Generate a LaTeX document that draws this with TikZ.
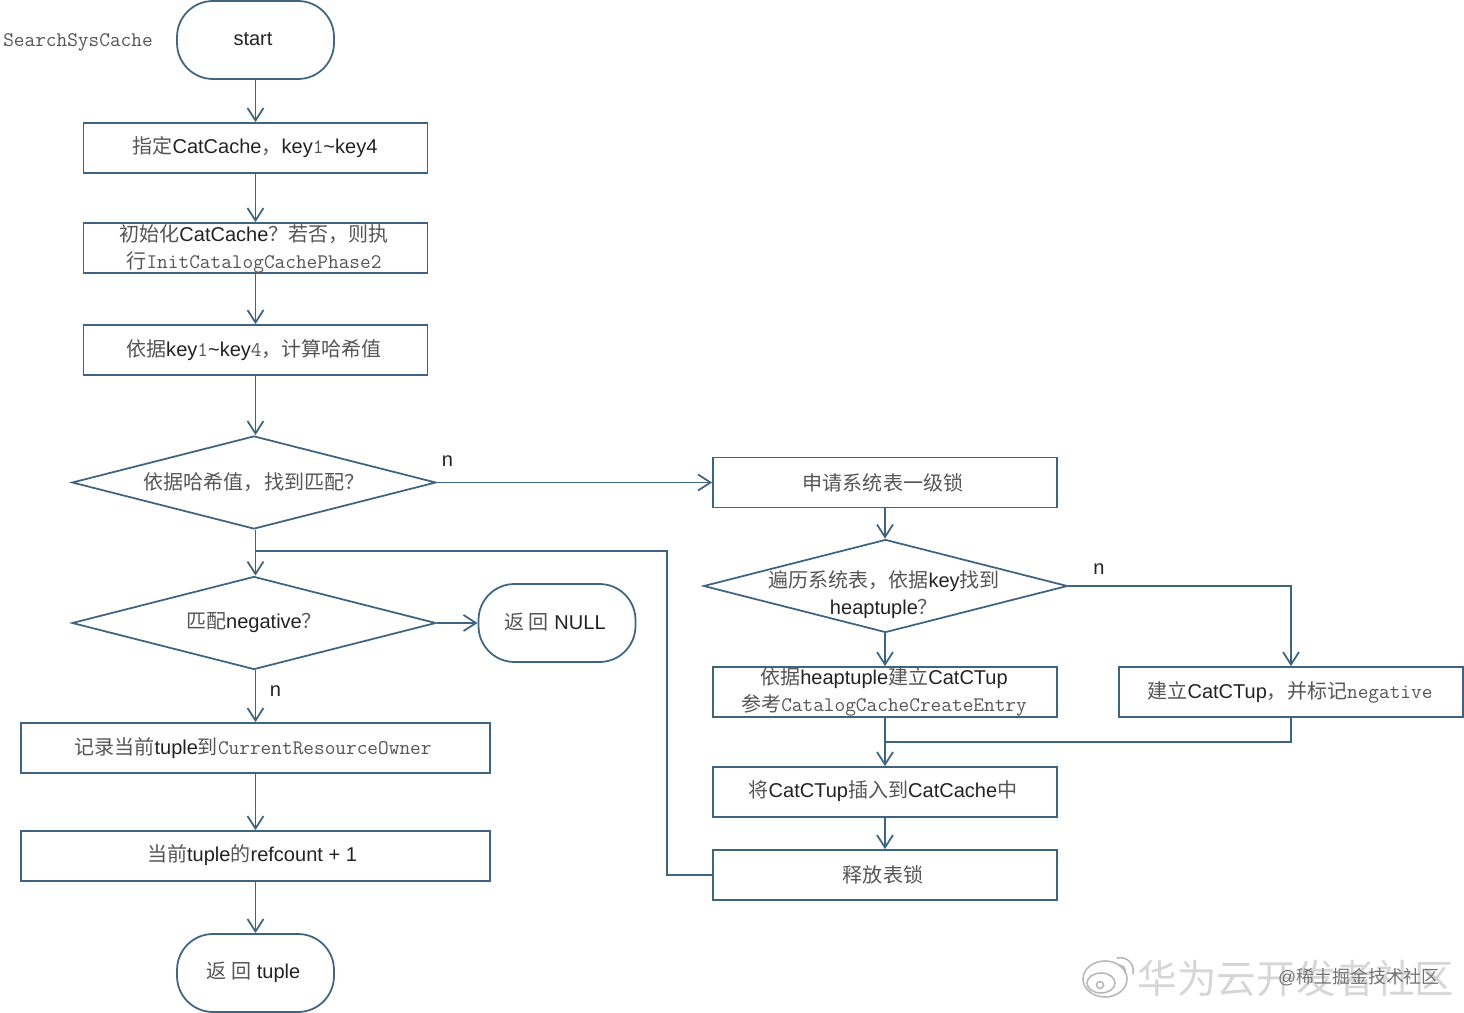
\documentclass[tikz,border=0pt]{standalone}
\usepackage{fontspec}
\setmainfont{Liberation Sans}
\newfontfamily\cjk{Noto Sans CJK SC}
\usetikzlibrary{shapes.geometric,arrows.meta}
\definecolor{flowline}{HTML}{3F6480}
\definecolor{latintext}{HTML}{222222}
\definecolor{cjktext}{HTML}{555555}
\definecolor{monotext}{HTML}{555555}
\newcommand{\zh}[1]{{\cjk\color{cjktext}#1}}
\newcommand{\mn}[1]{{\fontsize{11.8}{15.4}\ttfamily\color{monotext}#1}}
\tikzset{
	every node/.style={text=latintext,font=\fontsize{11.4}{15.4}\selectfont,inner sep=0pt,align=center},
	boxnode/.style={draw=flowline,line width=1pt,rectangle,minimum width=6.88cm,minimum height=1cm},
	widenode/.style={boxnode,minimum width=9.38cm},
	endnode/.style={draw=flowline,line width=1pt,rectangle,rounded corners=0.72cm,minimum width=3.14cm,minimum height=1.56cm},
	asknode/.style={draw=flowline,line width=1pt,diamond,aspect=3.9,minimum width=7.28cm,minimum height=1.86cm},
	flow/.style={draw=flowline,line width=1pt,-{Straight Barb[length=0.25cm,width=0.32cm]}},
	plain/.style={draw=flowline,line width=1pt}
}
\begin{document}
\begin{tikzpicture}[x=0.02cm,y=-0.02cm]
	\useasboundingbox (0,0) rectangle (1464,1013);
	% left column
	\node (title) at (78,42.5) {\mn{SearchSysCache}};
	\node [endnode] (start) at (255.5,40) {};
	\node (starttext) at (253,39) {start};
	\node [boxnode] (pick) at (255.5,148) {};
	\node (picktext) at (255,147.5) {\zh{指定}CatCache\zh{，}key\mn{1}\textasciitilde key4};
	\node [boxnode] (init) at (255.5,248) {};
	\node (inittext) at (254,248.5) {\zh{初始化}CatCache\zh{？若否，则执}\\\zh{行}\mn{InitCatalogCachePhase2}};
	\node [boxnode] (hash) at (255.5,350) {};
	\node (hashtext) at (254,350) {\zh{依据}key\mn{1}\textasciitilde key\mn{4}\zh{，计算哈希值}};
	\node [asknode] (match) at (254,482.5) {\zh{依据哈希值，找到匹配？}};
	\node [asknode] (neg) at (254,623) {\zh{匹配}negative\zh{？}};
	\node [endnode] (null) at (557,623) {};
	\node (nulltext) at (555,622) {\zh{返 回} NULL};
	\node [widenode] (owner) at (255.5,748) {};
	\node (ownertext) at (253,748.5) {\zh{记录当前}tuple\zh{到}\mn{CurrentResourceOwner}};
	\node [widenode] (refc) at (255.5,856) {};
	\node (refctext) at (252,855) {\zh{当前}tuple\zh{的}refcount + 1};
	\node [endnode] (ret) at (255.5,973) {};
	\node (rettext) at (253.5,972) {\zh{返 回} tuple};
	% right column
	\node [boxnode] (lock) at (885,482.5) {};
	\node (locktext) at (883,482.5) {\zh{申请系统表一级锁}};
	\node [asknode] (scan) at (885.5,586) {};
	\node (scantext) at (884,595) {\zh{遍历系统表，依据}key\zh{找到}\\heaptuple\zh{？}};
	\node [boxnode] (build) at (885,692) {};
	\node (buildtext) at (884,692) {\zh{依据}heaptuple\zh{建立}CatCTup\\\zh{参考}\mn{CatalogCacheCreateEntry}};
	\node [boxnode] (mark) at (1291,692) {};
	\node (marktext) at (1290,692) {\zh{建立}CatCTup\zh{，并标记}\mn{negative}};
	\node [boxnode] (insert) at (885,792) {};
	\node (inserttext) at (883,791.5) {\zh{将}CatCTup\zh{插入到}CatCache\zh{中}};
	\node [boxnode] (release) at (885,875) {};
	\node (releasetext) at (883,875) {\zh{释放表锁}};
	% branch labels
	\node (n1) at (447.5,461.5) {n};
	\node (n2) at (1099,569.5) {n};
	\node (n3) at (275.5,691.5) {n};
	% turning points
	\coordinate (merge) at (255.5,551);
	\coordinate (turna) at (667,551);
	\coordinate (turnb) at (667,875);
	\coordinate (join) at (885,742);
	% connectors
	\draw [flow] (start) -- (pick);
	\draw [flow] (pick) -- (init);
	\draw [flow] (init) -- (hash);
	\draw [flow] (hash) -- (match.north -| hash);
	\draw [flow] (match.south -| hash) -- (neg.north -| hash);
	\draw [flow] (match) -- (lock);
	\draw [flow] (neg) -- (null);
	\draw [flow] (neg.south -| owner) -- (owner);
	\draw [flow] (owner) -- (refc);
	\draw [flow] (refc) -- (ret);
	\draw [flow] (lock) -- (lock |- scan.north);
	\draw [flow] (scan.south -| build) -- (build);
	\draw [flow] (scan.east) -| (mark.north);
	\draw [flow] (build) -- (insert);
	\draw [flow] (insert) -- (release);
	\draw [plain] (mark.south) |- (join);
	\draw [plain] (release.west) -- (turnb) -- (turna) -- (merge);
	% watermark
	\begin{scope}[draw=black!28,line width=0.9pt]
		\draw (1105,979) ellipse [x radius=22,y radius=18];
		\draw (1101,983) ellipse [x radius=14,y radius=10];
		\draw (1100,985) circle [radius=3.5];
		\draw (1118,965) .. controls (1123,965) and (1126,968) .. (1125,973);
		\draw (1117,958) .. controls (1127,956) and (1135,964) .. (1133,974);
	\end{scope}
	\node [text=black!16,font=\fontsize{22.5}{26}\selectfont] (mark1) at (1296,978) {\cjk 华为云开发者社区};
	\node [text=black!55,font=\fontsize{10.2}{12}\selectfont] (mark2) at (1359,977) {@\cjk 稀土掘金技术社区};
\end{tikzpicture}
\end{document}
